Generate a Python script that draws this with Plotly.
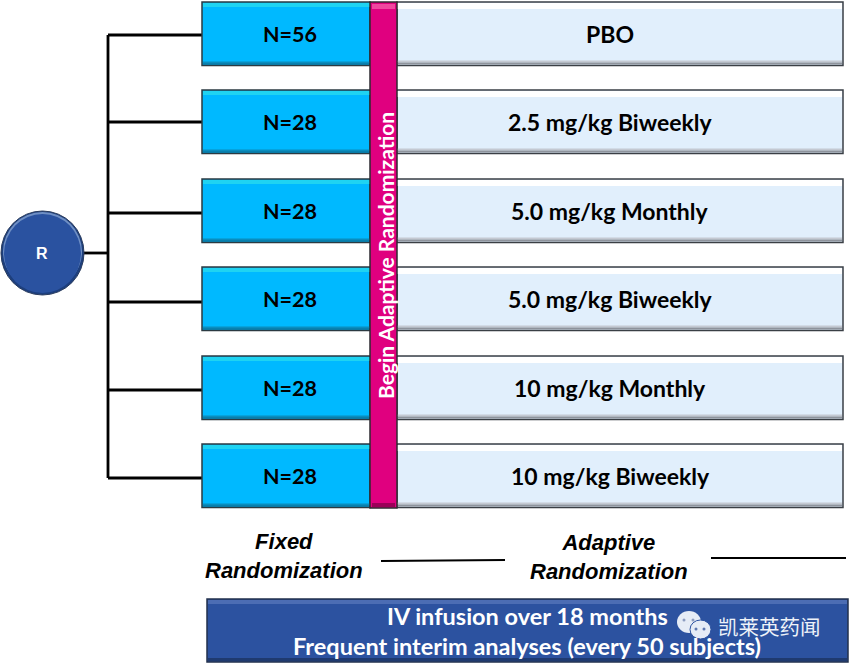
import plotly.graph_objects as go

# ---- content ----
arm_sizes = ["N=56", "N=28", "N=28", "N=28", "N=28", "N=28"]
arm_doses = ["PBO", "2.5 mg/kg Biweekly", "5.0 mg/kg Monthly",
             "5.0 mg/kg Biweekly", "10 mg/kg Monthly", "10 mg/kg Biweekly"]
root_label = "R"
band_label = "Begin Adaptive Randomization"
phase_labels = ["Fixed<br>Randomization", "Adaptive<br>Randomization"]
footer_lines = ["IV infusion over 18 months", "Frequent interim analyses (every 50 subjects)"]
watermark = "凯莱英药闻"

# ---- layout geometry (pixels) ----
W, H = 850, 664
row_tops = [2, 90, 179, 267, 356, 444]
row_h = 63.5
branch_ys = [35, 122, 213, 302, 390, 478]
fixed_x = (202, 370)
band_x = (370, 397)
adapt_x = (397, 843)

shapes, ann = [], []

def rect(x0, y0, x1, y1, fill, line=None, lw=0):
    shapes.append(dict(type="rect", x0=x0, y0=y0, x1=x1, y1=y1, fillcolor=fill,
                       line=dict(color=line or fill, width=lw), layer="above"))

def oval(x0, y0, x1, y1, fill, line=None, lw=0):
    shapes.append(dict(type="circle", x0=x0, y0=y0, x1=x1, y1=y1, fillcolor=fill,
                       line=dict(color=line or fill, width=lw), layer="above"))

def seg(x0, y0, x1, y1, color="#000000", lw=2.8):
    shapes.append(dict(type="line", x0=x0, y0=y0, x1=x1, y1=y1,
                       line=dict(color=color, width=lw), layer="above"))

def text(x, y, s, size, color, font="Lato", bold=True, italic=False, angle=0):
    t = s
    if bold:
        t = "<b>" + t.replace("<br>", "</b><br><b>") + "</b>"
    if italic:
        t = "<i>" + t.replace("<br>", "</i><br><i>") + "</i>"
    ann.append(dict(x=x, y=y, text=t, showarrow=False, textangle=angle, xanchor="center", yanchor="middle",
                    font=dict(family=font, size=size, color=color)))

# tree
seg(108, branch_ys[0], 108, branch_ys[-1])
seg(83, 253, 108, 253)
for y in branch_ys:
    seg(108, y, 202, y)

# root node
oval(1, 211, 84, 295, "#1D3F7E", "#2A3C5E", 1)
oval(3, 212, 82, 291, "#6F8FC4")
oval(4, 214, 81, 293, "#2A52A0")
text(42, 253, root_label, 16, "#FFFFFF", font="Liberation Sans")

# rows
for top, n, dose in zip(row_tops, arm_sizes, arm_doses):
    bot = top + row_h
    rect(fixed_x[0], top, fixed_x[1], bot, "#00B9FF", "#2B3A42", 1.5)
    rect(fixed_x[0] + 1, top + 1, fixed_x[1], top + 5, "#1FD3F2")
    rect(fixed_x[0] + 1, bot - 4, fixed_x[1], bot - 2, "#0A8DBE")
    rect(fixed_x[0] + 1, bot - 2, fixed_x[1], bot - 1, "#0B5F80")
    rect(adapt_x[0], top, adapt_x[1], bot, "#E1EFFC", "#3A3F45", 1.5)
    rect(adapt_x[0], top + 1, adapt_x[1] - 1, top + 7, "#FFFFFF")
    rect(adapt_x[0], bot - 5, adapt_x[1] - 1, bot - 3, "#C4C9D2")
    rect(adapt_x[0], bot - 3, adapt_x[1] - 1, bot - 1, "#8E939C")
    text(290, top + row_h / 2, n, 21.5, "#000000")
    text(610, top + row_h / 2, dose, 23, "#000000")

# adaptive band
rect(band_x[0], 2, band_x[1], 508, "#E0007F", "#2E2A30", 1.5)
rect(band_x[0] + 2, 4, band_x[1] - 2, 9, "#F0479F")
rect(band_x[0] + 2, 503, band_x[1] - 2, 507, "#9A0058")
text(385, 256, band_label, 21, "#FFFFFF", angle=-90)

# phase labels
text(284, 556, phase_labels[0], 22, "#000000", font="Liberation Sans", italic=True)
text(609, 557, phase_labels[1], 22, "#000000", font="Liberation Sans", italic=True)
seg(381, 561, 505, 560, lw=2)
seg(711, 558, 846, 558, lw=2)

# footer
rect(207, 599, 848, 662, "#2C52A0", "#22304C", 1.5)
rect(208, 600, 847, 604, "#4C6DB4")
rect(208, 658, 847, 661, "#1F3A70")
text(527, 616, footer_lines[0], 23.5, "#FFFFFF")
text(527, 646, footer_lines[1], 23.5, "#FFFFFF")

# watermark
oval(677, 611, 701, 633, "#E6ECF6")
oval(690, 620, 711, 639, "#E6ECF6", "#2C52A0", 1)
for cx, cy, c in [(684, 620, "#8C9CC0"), (693, 620, "#8C9CC0"), (696, 629, "#5E78B0"), (704, 629, "#5E78B0")]:
    oval(cx - 1.5, cy - 1.5, cx + 1.5, cy + 1.5, c)
text(769, 626, watermark, 20.5, "#EEF2F9", font="Noto Sans CJK SC", bold=False)

fig = go.Figure()
fig.update_layout(
    width=W, height=H, margin=dict(l=0, r=0, t=0, b=0),
    paper_bgcolor="#FFFFFF", plot_bgcolor="#FFFFFF",
    xaxis=dict(range=[0, W], visible=False, fixedrange=True),
    yaxis=dict(range=[H, 0], visible=False, fixedrange=True),
    shapes=shapes, annotations=ann, showlegend=False,
)
fig.write_html("out.html", config=dict(displayModeBar=False),
               post_script="document.body.style.margin='0';document.documentElement.style.overflow='hidden';")
